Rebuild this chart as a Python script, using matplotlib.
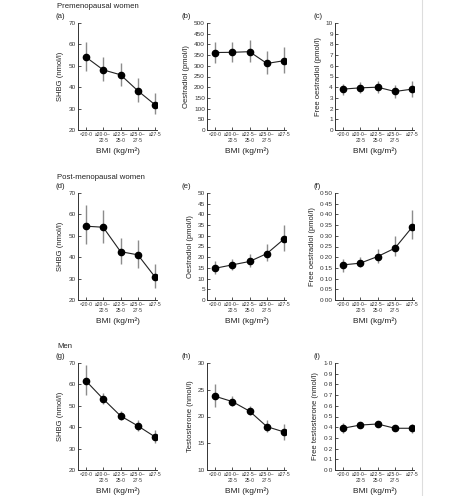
import numpy as np
import matplotlib
matplotlib.use('Agg')
import matplotlib.pyplot as plt
from matplotlib.lines import Line2D

plt.rcParams['font.family'] = ['Liberation Sans', 'DejaVu Sans']

# BMI groups (x categories)
bmi_labels = ['<20·0', '≥20·0–\n22·5', '≥22·5–\n25·0', '≥25·0–\n27·5', '≥27·5']

# values: mean, lower end, upper end of the bars
shbg_pre = [54.1, 48.1, 45.8, 38.3, 31.7]
shbg_pre_lo = [47.8, 43.1, 40.6, 33.3, 27.3]
shbg_pre_hi = [60.9, 53.9, 51.3, 44.2, 37.2]

oe_pre = [362, 363, 366, 311, 324]
oe_pre_lo = [311, 318, 319, 261, 267]
oe_pre_hi = [413, 413, 421, 369, 390]

foe_pre = [3.82, 3.94, 4.0, 3.6, 3.82]
foe_pre_lo = [3.31, 3.44, 3.47, 3.0, 3.12]
foe_pre_hi = [4.32, 4.48, 4.57, 4.16, 4.54]

shbg_post = [54.5, 54.0, 42.6, 41.1, 30.6]
shbg_post_lo = [46.0, 46.7, 36.9, 35.0, 25.8]
shbg_post_hi = [64.6, 62.2, 49.2, 48.1, 36.6]

oe_post = [14.8, 16.4, 18.0, 21.7, 28.6]
oe_post_lo = [12.3, 13.9, 15.3, 18.0, 23.1]
oe_post_hi = [18.0, 19.2, 21.4, 26.3, 35.0]

foe_post = [0.164, 0.172, 0.203, 0.242, 0.341]
foe_post_lo = [0.133, 0.152, 0.172, 0.205, 0.284]
foe_post_hi = [0.191, 0.200, 0.239, 0.300, 0.420]

shbg_men = [61.7, 53.2, 45.3, 40.6, 35.4]
shbg_men_lo = [55.1, 50.8, 43.3, 38.1, 32.6]
shbg_men_hi = [69.2, 56.2, 47.5, 43.3, 38.6]

testo = [23.8, 22.8, 21.0, 18.1, 17.1]
testo_lo = [21.7, 21.9, 20.2, 17.1, 15.7]
testo_hi = [26.0, 23.8, 21.9, 19.3, 18.6]

ftesto = [0.39, 0.42, 0.43, 0.39, 0.39]
ftesto_lo = [0.35, 0.39, 0.41, 0.36, 0.35]
ftesto_hi = [0.44, 0.45, 0.46, 0.425, 0.43]

panels = [
    ('(a)', 'SHBG (nmol/l)', shbg_pre, shbg_pre_lo, shbg_pre_hi, np.arange(20, 71, 10), '%d'),
    ('(b)', 'Oestradiol (pmol/l)', oe_pre, oe_pre_lo, oe_pre_hi, np.arange(0, 501, 50), '%d'),
    ('(c)', 'Free oestradiol (pmol/l)', foe_pre, foe_pre_lo, foe_pre_hi, np.arange(0, 11, 1), '%d'),
    ('(d)', 'SHBG (nmol/l)', shbg_post, shbg_post_lo, shbg_post_hi, np.arange(20, 71, 10), '%d'),
    ('(e)', 'Oestradiol (pmol/l)', oe_post, oe_post_lo, oe_post_hi, np.arange(0, 51, 5), '%d'),
    ('(f)', 'Free oestradiol (pmol/l)', foe_post, foe_post_lo, foe_post_hi, np.linspace(0, 0.5, 11), '%.2f'),
    ('(g)', 'SHBG (nmol/l)', shbg_men, shbg_men_lo, shbg_men_hi, np.arange(20, 71, 10), '%d'),
    ('(h)', 'Testosterone (nmol/l)', testo, testo_lo, testo_hi, np.arange(10, 31, 5), '%d'),
    ('(i)', 'Free testosterone (nmol/l)', ftesto, ftesto_lo, ftesto_hi, np.linspace(0, 1.0, 11), '%.1f'),
]

W, H = 474, 496
fig = plt.figure(figsize=(W / 100, H / 100), dpi=100)

col_left = [78, 207, 335]
row_top = [23, 193, 363]
ax_w, ax_h = 79, 107

for k, (tag, ylab, y, lo, hi, yt, fmt) in enumerate(panels):
    r, c = divmod(k, 3)
    ax = fig.add_axes([col_left[c] / W, (H - row_top[r] - ax_h) / H, ax_w / W, ax_h / H])
    x = np.arange(len(y))
    y = np.array(y)
    err = [y - np.array(lo), np.array(hi) - y]
    ax.errorbar(x, y, yerr=err, fmt='none', ecolor='#8c8c8c', elinewidth=1.0, capsize=0)
    ax.plot(x, y, '-', color='#222222', lw=0.8)
    ax.plot(x, y, 'o', color='black', ms=4.5)
    ax.set_xlim(-0.45, 4.1)
    ax.set_ylim(yt[0], yt[-1])
    ax.set_xticks(x)
    ax.set_xticklabels(bmi_labels, fontsize=3.6, linespacing=1.3)
    ax.set_yticks(yt)
    ax.set_yticklabels([(fmt % v).replace('.', '·') for v in yt], fontsize=4.6)
    ax.tick_params(direction='in', length=2, width=0.6, pad=1.5, colors='#333333')
    for s in ['top', 'right']:
        ax.spines[s].set_visible(False)
    for s in ['left', 'bottom']:
        ax.spines[s].set_linewidth(0.7)
        ax.spines[s].set_color('#333333')
    ax.set_ylabel(ylab, fontsize=5.5, labelpad=3, color='#222222')
    ax.set_xlabel('BMI (kg/m²)', fontsize=6.0, labelpad=3, color='#222222')
    tag_x = [55, 182, 313][c]
    fig.text(tag_x / W, 1 - (row_top[r] - 6) / H, tag, fontsize=5.6, va='center', color='#222222')

group_titles = ['Premenopausal women', 'Post-menopausal women', 'Men']
title_y = [6, 177, 347]
for t, ty in zip(group_titles, title_y):
    fig.text(57 / W, 1 - ty / H, t, fontsize=5.6, va='center', color='#222222')

fig.add_artist(Line2D([422 / W, 422 / W], [0, 1], color='#dddddd', lw=0.8))

fig.savefig('out.png', dpi=100)
